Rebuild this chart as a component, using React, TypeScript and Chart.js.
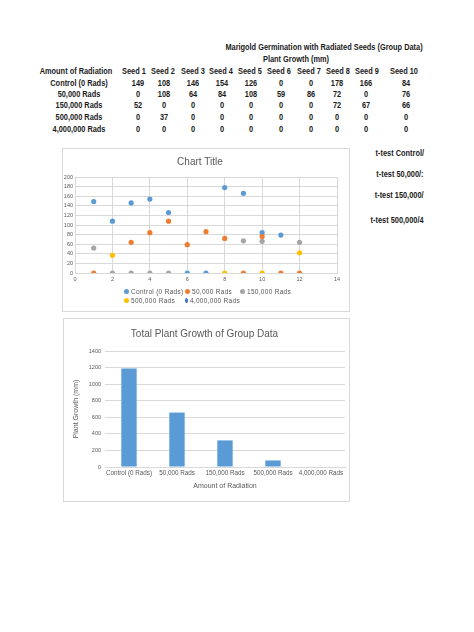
import { useEffect, useRef } from "react";
import { Chart, registerables } from "chart.js";

Chart.register(...registerables);

// spreadsheet data
const seedLabels = ["Seed 1", "Seed 2", "Seed 3", "Seed 4", "Seed 5", "Seed 6", "Seed 7", "Seed 8", "Seed 9", "Seed 10"];
const radiationLabels = ["Control (0 Rads)", "50,000 Rads", "150,000 Rads", "500,000 Rads", "4,000,000 Rads"];
const controlGrowth = [149, 108, 146, 154, 126, 0, 0, 178, 166, 84];
const rads50kGrowth = [0, 108, 64, 84, 108, 59, 86, 72, 0, 76];
const rads150kGrowth = [52, 0, 0, 0, 0, 0, 0, 72, 67, 66];
const rads500kGrowth = [0, 37, 0, 0, 0, 0, 0, 0, 0, 0];
const rads4mGrowth = [0, 0, 0, 0, 0, 0, 0, 0, 0, 0];
const tableRows = [controlGrowth, rads50kGrowth, rads150kGrowth, rads500kGrowth, rads4mGrowth];
const tTestLabels = ["t-test Control/", "t-test 50,000/:", "t-test 150,000/", "t-test 500,000/4"];

// scatter chart points (seed number on x), null = no visible marker
const scatterSeeds = [1, 2, 3, 4, 5, 6, 7, 8, 9, 10, 11, 12];
const scatterControl = [149, 108, 146, 154, 126, 0, 0, 178, 166, 84, 79, null];
const scatter50k = [0, null, 64, 84, 108, 59, 86, 72, 0, 76, 0, 0];
const scatter150k = [52, 0, 0, 0, 0, null, null, null, 67, 66, null, 64];
const scatter500k = [null, 37, null, null, null, null, null, 0, null, 0, null, 42];
const scatter4m = [null, null, null, null, null, null, null, null, null, null, null, null];
const scatterSeries = [scatterControl, scatter50k, scatter150k, scatter500k, scatter4m];
const seriesColors = ["#5b9bd5", "#ed7d31", "#a5a5a5", "#ffc000", "#4472c4"];

// bar chart totals
const totalGrowth = [1190, 657, 321, 79, 0];

const sans = '"Liberation Sans", Arial, sans-serif';
const textGrey = "#595959";
const gridGrey = "#d9d9d9";

// column centres of the sheet
const headerX = [134, 163, 193, 221, 250, 279, 309, 338, 367, 404];
const valueX = [138, 164, 193, 222, 251, 281, 311, 337, 366, 406];
const rowY = [83, 94, 105, 117, 129];
const tTestY = [153, 174, 195, 220];

const Cell = ({ x, y, children }: { x: number; y: number; children: any }) => (
  <div
    style={{
      position: "absolute",
      left: x,
      top: y,
      transform: "translate(-50%, -50%) scaleX(0.82)",
      whiteSpace: "nowrap",
      fontFamily: sans,
      fontSize: 9,
      fontWeight: "bold",
      color: "#1a1a1a",
      lineHeight: 1,
    }}
  >
    {children}
  </div>
);

const ScatterChart = () => {
  const canvasRef = useRef<HTMLCanvasElement | null>(null);

  useEffect(() => {
    if (!canvasRef.current) return;
    const chart = new Chart(canvasRef.current, {
      type: "scatter",
      data: {
        datasets: scatterSeries.map((series, i) => ({
          label: radiationLabels[i],
          data: scatterSeeds
            .map((x, j) => ({ x, y: series[j] }))
            .filter((p) => p.y !== null) as { x: number; y: number }[],
          backgroundColor: seriesColors[i],
          borderColor: seriesColors[i],
          pointRadius: 2.6,
          borderWidth: 0,
          order: 5 - i,
        })),
      },
      options: {
        animation: false,
        responsive: false,
        layout: { padding: { left: 0, right: 12, top: 0, bottom: 0 } },
        plugins: {
          legend: { display: false },
          tooltip: { enabled: false },
          title: {
            display: true,
            text: "Chart Title",
            color: textGrey,
            font: { family: sans, size: 10, weight: "normal" },
            padding: { top: 7, bottom: 9 },
          },
        },
        scales: {
          x: {
            type: "linear",
            min: 0,
            max: 14,
            ticks: { stepSize: 2, color: textGrey, font: { family: sans, size: 5.5 }, padding: 3 },
            grid: { color: gridGrey, drawTicks: false },
            border: { color: gridGrey },
            afterFit: (scale: any) => {
              scale.height = 38;
            },
          },
          y: {
            min: 0,
            max: 200,
            ticks: { stepSize: 20, color: textGrey, font: { family: sans, size: 5.5 }, padding: 2 },
            grid: { color: gridGrey, drawTicks: false },
            border: { display: false },
            afterFit: (scale: any) => {
              scale.width = 12;
            },
          },
        },
      },
    });
    return () => chart.destroy();
  }, []);

  return (
    <div
      style={{
        position: "absolute",
        left: 62,
        top: 148,
        width: 288,
        height: 164,
        boxSizing: "border-box",
        border: `1px solid ${gridGrey}`,
        background: "#fff",
      }}
    >
      <canvas ref={canvasRef} width={286} height={162} style={{ display: "block", width: 286, height: 162 }} />
      <div
        style={{
          position: "absolute",
          left: 61,
          top: 139,
          display: "grid",
          gridTemplateColumns: "61px 55px auto",
          rowGap: 2,
          fontFamily: sans,
          fontSize: 6.5,
          color: textGrey,
          lineHeight: "7px",
          letterSpacing: 0.3,
        }}
      >
        {radiationLabels.map((label, i) => (
          <div key={label} style={{ display: "flex", alignItems: "center", whiteSpace: "nowrap" }}>
            <span
              style={{
                display: "inline-block",
                width: 5,
                height: 5,
                borderRadius: "50%",
                background: seriesColors[i],
                marginRight: 2,
              }}
            />
            {label}
          </div>
        ))}
      </div>
    </div>
  );
};

const BarChart = () => {
  const canvasRef = useRef<HTMLCanvasElement | null>(null);

  useEffect(() => {
    if (!canvasRef.current) return;
    const chart = new Chart(canvasRef.current, {
      type: "bar",
      data: {
        labels: radiationLabels,
        datasets: [
          {
            label: "Total Plant Growth",
            data: totalGrowth,
            backgroundColor: "#5b9bd5",
            barPercentage: 0.32,
            categoryPercentage: 1,
          },
        ],
      },
      options: {
        animation: false,
        responsive: false,
        layout: { padding: { left: 0, right: 4, top: 0, bottom: 0 } },
        plugins: {
          legend: { display: false },
          tooltip: { enabled: false },
          title: {
            display: true,
            text: "Total Plant Growth of Group Data",
            color: textGrey,
            font: { family: sans, size: 10, weight: "normal" },
            padding: { top: 9, bottom: 11 },
          },
        },
        scales: {
          x: {
            ticks: { color: textGrey, font: { family: sans, size: 6.3 }, padding: 2, maxRotation: 0, autoSkip: false },
            grid: { display: false, drawTicks: false },
            border: { color: gridGrey },
            title: {
              display: true,
              text: "Amount of Radiation",
              color: textGrey,
              font: { family: sans, size: 7 },
              padding: { top: 0, bottom: 10.8 },
            },
            afterFit: (scale: any) => {
              scale.height = 34;
            },
          },
          y: {
            min: 0,
            max: 1400,
            ticks: {
              stepSize: 200,
              color: textGrey,
              font: { family: sans, size: 5.5 },
              padding: 4,
              callback: (v: any) => String(v),
            },
            grid: { color: gridGrey, drawTicks: false },
            border: { display: false },
            title: {
              display: true,
              text: "Plant Growth (mm)",
              color: textGrey,
              font: { family: sans, size: 7 },
              padding: { top: 7.8, bottom: 0 },
            },
            afterFit: (scale: any) => {
              scale.width = 41;
            },
          },
        },
      },
    });
    return () => chart.destroy();
  }, []);

  return (
    <div
      style={{
        position: "absolute",
        left: 63,
        top: 318,
        width: 287,
        height: 184,
        boxSizing: "border-box",
        border: `1px solid ${gridGrey}`,
        background: "#fff",
      }}
    >
      <canvas ref={canvasRef} width={285} height={182} style={{ display: "block", width: 285, height: 182 }} />
    </div>
  );
};

export default function App() {
  return (
    <div style={{ position: "absolute", left: 0, top: 0, width: 474, height: 632, background: "#fff", overflow: "hidden" }}>
      <Cell x={324} y={47}>Marigold Germination with Radiated Seeds (Group Data)</Cell>
      <Cell x={296} y={59}>Plant Growth (mm)</Cell>
      <Cell x={76} y={71}>Amount of Radiation</Cell>
      {seedLabels.map((s, i) => (
        <Cell key={s} x={headerX[i]} y={71}>
          {s}
        </Cell>
      ))}
      {tableRows.map((row, r) => (
        <div key={radiationLabels[r]}>
          <Cell x={79} y={rowY[r]}>
            {radiationLabels[r]}
          </Cell>
          {row.map((v, i) => (
            <Cell key={i} x={valueX[i]} y={rowY[r]}>
              {v}
            </Cell>
          ))}
        </div>
      ))}
      {tTestLabels.map((t, i) => (
        <div
          key={t}
          style={{
            position: "absolute",
            right: 474 - 424,
            top: tTestY[i],
            transform: "translateY(-50%) scaleX(0.82)",
            transformOrigin: "right center",
            whiteSpace: "nowrap",
            fontFamily: sans,
            fontSize: 9,
            fontWeight: "bold",
            color: "#1a1a1a",
            lineHeight: 1,
          }}
        >
          {t}
        </div>
      ))}
      <ScatterChart />
      <BarChart />
    </div>
  );
}
